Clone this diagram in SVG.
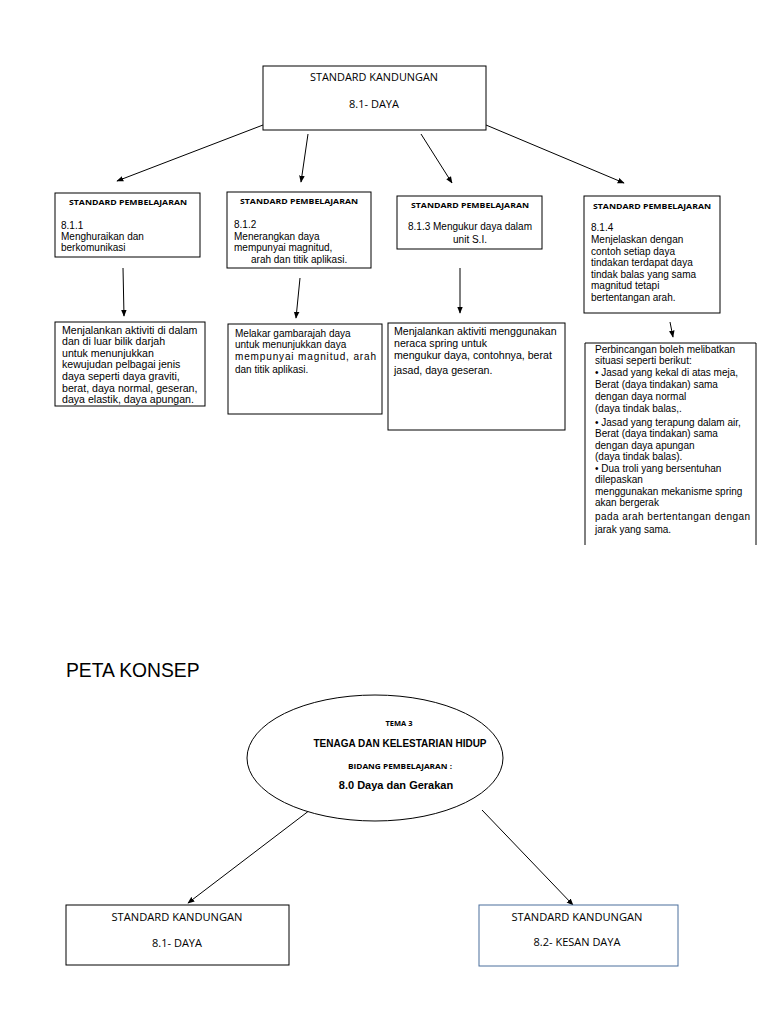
<svg xmlns="http://www.w3.org/2000/svg" width="768" height="1024" viewBox="0 0 768 1024">
<defs>
<marker id="ah" viewBox="0 0 10 10" refX="9" refY="5" markerWidth="7" markerHeight="7" orient="auto" markerUnits="userSpaceOnUse">
<path d="M0,1 L10,5 L0,9 z" fill="#000"/>
</marker>
<style>
.box{fill:#fff;stroke:#000;stroke-width:1}
.t{font-family:"Liberation Sans",Arial,sans-serif;font-size:10px;fill:#000}
.tl{font-size:10.6px}
.h{font-family:"Open Sans","Liberation Sans",sans-serif;font-size:7.5px;font-weight:bold;fill:#000}
.k{font-family:"Open Sans","Liberation Sans",sans-serif;font-size:10px;fill:#000}
.k2{font-size:11px}
.c{text-anchor:middle}
.line{stroke:#000;stroke-width:1;fill:none;marker-end:url(#ah)}
</style>
</defs>
<rect width="768" height="1024" fill="#fff"/>

<g id="connectors">
<line class="line" x1="263" y1="125" x2="117" y2="181"/>
<line class="line" x1="308" y1="134" x2="301" y2="182"/>
<line class="line" x1="421" y1="134" x2="452" y2="183"/>
<line class="line" x1="486" y1="125" x2="624" y2="183"/>
<line class="line" x1="123" y1="268" x2="124" y2="316"/>
<line class="line" x1="300" y1="278" x2="296" y2="318"/>
<line class="line" x1="460" y1="268" x2="460" y2="313"/>
<line class="line" x1="670" y1="322" x2="673" y2="337"/>
<line class="line" x1="310" y1="810" x2="188" y2="903"/>
<line class="line" x1="482" y1="810" x2="573" y2="905"/>
</g>

<g id="sk-top">
<rect class="box" x="263" y="66" width="223" height="64"/>
<text class="k c" x="374" y="81" textLength="128" lengthAdjust="spacingAndGlyphs">STANDARD KANDUNGAN</text>
<text class="k k2 c" x="374" y="108">8.1- DAYA</text>
</g>

<g id="sp1">
<rect class="box" x="55" y="193" width="145" height="64"/>
<text class="h c" x="128" y="205" textLength="118" lengthAdjust="spacingAndGlyphs">STANDARD PEMBELAJARAN</text>
<text class="t" x="61" y="229">8.1.1</text>
<text class="t" x="61" y="240">Menghuraikan dan</text>
<text class="t" x="61" y="251">berkomunikasi</text>
</g>

<g id="sp2">
<rect class="box" x="227" y="192" width="144" height="76"/>
<text class="h c" x="299" y="204" textLength="118" lengthAdjust="spacingAndGlyphs">STANDARD PEMBELAJARAN</text>
<text class="t" x="234" y="228">8.1.2</text>
<text class="t" x="234" y="240">Menerangkan daya</text>
<text class="t" x="234" y="251">mempunyai magnitud,</text>
<text class="t" x="251" y="263">arah dan titik aplikasi.</text>
</g>

<g id="sp3">
<rect class="box" x="397" y="196" width="145" height="53"/>
<text class="h c" x="470" y="208" textLength="118" lengthAdjust="spacingAndGlyphs">STANDARD PEMBELAJARAN</text>
<text class="t c" x="470" y="230">8.1.3 Mengukur daya dalam</text>
<text class="t c" x="470" y="243">unit S.I.</text>
</g>

<g id="sp4">
<rect class="box" x="584" y="196" width="136" height="117"/>
<text class="h c" x="652" y="209" textLength="118" lengthAdjust="spacingAndGlyphs">STANDARD PEMBELAJARAN</text>
<text class="t" x="591" y="231">8.1.4</text>
<text class="t" x="591" y="243">Menjelaskan dengan</text>
<text class="t" x="591" y="255">contoh setiap daya</text>
<text class="t" x="591" y="266">tindakan terdapat daya</text>
<text class="t" x="591" y="278">tindak balas yang sama</text>
<text class="t" x="591" y="289">magnitud tetapi</text>
<text class="t" x="591" y="301">bertentangan arah.</text>
</g>

<g id="act1">
<rect class="box" x="55" y="322" width="150" height="84"/>
<text class="t tl" x="62" y="334">Menjalankan aktiviti di dalam</text>
<text class="t tl" x="62" y="345">dan di luar bilik darjah</text>
<text class="t tl" x="62" y="357">untuk menunjukkan</text>
<text class="t tl" x="62" y="368">kewujudan pelbagai jenis</text>
<text class="t tl" x="62" y="380">daya seperti daya graviti,</text>
<text class="t tl" x="62" y="392">berat, daya normal, geseran,</text>
<text class="t tl" x="62" y="403">daya elastik, daya apungan.</text>
</g>

<g id="act2">
<rect class="box" x="228" y="324" width="154" height="90"/>
<text class="t" x="235" y="337">Melakar gambarajah daya</text>
<text class="t" x="235" y="348">untuk menunjukkan daya</text>
<text class="t" x="235" y="360" textLength="141" lengthAdjust="spacing">mempunyai  magnitud,  arah</text>
<text class="t" x="235" y="373">dan titik aplikasi.</text>
</g>

<g id="act3">
<rect class="box" x="388" y="323" width="177" height="107"/>
<text class="t tl" x="394" y="335">Menjalankan aktiviti menggunakan</text>
<text class="t tl" x="394" y="347">neraca spring untuk</text>
<text class="t tl" x="394" y="359">mengukur daya, contohnya, berat</text>
<text class="t tl" x="394" y="374">jasad, daya geseran.</text>
</g>

<g id="act4">
<path class="box" d="M585,545 V343 H756 V545" fill="#fff"/>
<text class="t" x="595" y="353">Perbincangan boleh melibatkan</text>
<text class="t" x="595" y="364">situasi seperti berikut:</text>
<text class="t" x="595" y="376">• Jasad yang kekal di atas meja,</text>
<text class="t" x="595" y="388">Berat (daya tindakan) sama</text>
<text class="t" x="595" y="400">dengan daya normal</text>
<text class="t" x="595" y="412">(daya tindak balas,.</text>
<text class="t" x="595" y="426">• Jasad yang terapung dalam air,</text>
<text class="t" x="595" y="437">Berat (daya tindakan) sama</text>
<text class="t" x="595" y="449">dengan daya apungan</text>
<text class="t" x="595" y="460">(daya tindak balas).</text>
<text class="t" x="595" y="472">• Dua troli yang bersentuhan</text>
<text class="t" x="595" y="483">dilepaskan</text>
<text class="t" x="595" y="495">menggunakan mekanisme spring</text>
<text class="t" x="595" y="506">akan bergerak</text>
<text class="t" x="595" y="520" textLength="155" lengthAdjust="spacing">pada arah bertentangan dengan</text>
<text class="t" x="595" y="533">jarak yang sama.</text>
</g>

<g id="title">
<text x="66" y="677" style="font-family:'Liberation Sans',Arial,sans-serif;font-size:19.3px;fill:#000">PETA KONSEP</text>
</g>

<g id="tema">
<ellipse class="box" cx="375" cy="758" rx="128" ry="63"/>
<text class="h c" x="399" y="726">TEMA 3</text>
<text class="t c" x="400" y="747" style="font-weight:bold" textLength="173" lengthAdjust="spacingAndGlyphs">TENAGA DAN KELESTARIAN HIDUP</text>
<text class="h c" x="400" y="769" textLength="104" lengthAdjust="spacingAndGlyphs">BIDANG PEMBELAJARAN :</text>
<text class="t c" x="396" y="789" style="font-weight:bold;font-size:11px">8.0 Daya dan Gerakan</text>
</g>

<g id="sk1">
<rect class="box" x="66" y="905" width="223" height="60"/>
<text class="k c" x="177" y="921" textLength="131" lengthAdjust="spacingAndGlyphs">STANDARD KANDUNGAN</text>
<text class="k k2 c" x="177" y="947">8.1- DAYA</text>
</g>

<g id="sk2">
<rect class="box" x="479" y="905" width="199" height="61" style="stroke:#4a6e9c"/>
<text class="k c" x="577" y="921" textLength="131" lengthAdjust="spacingAndGlyphs">STANDARD KANDUNGAN</text>
<text class="k k2 c" x="577" y="946">8.2- KESAN DAYA</text>
</g>
</svg>
